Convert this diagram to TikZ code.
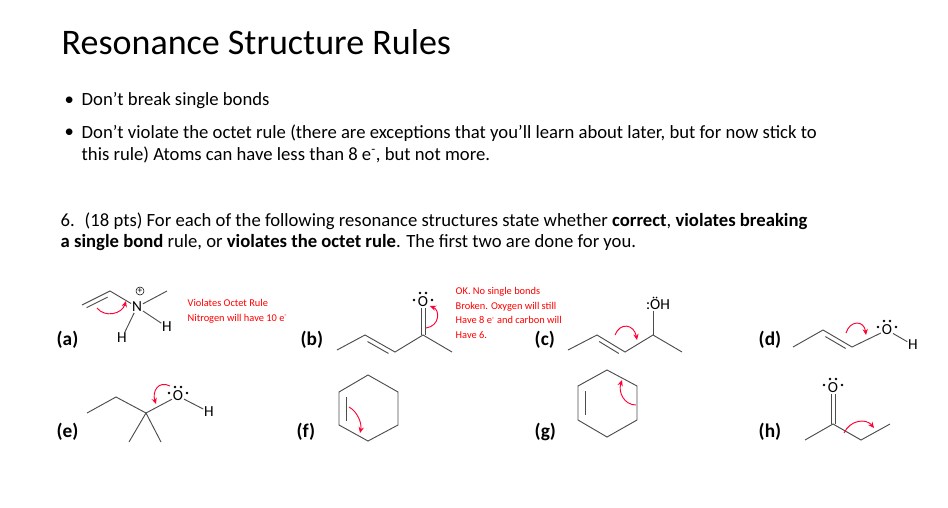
\documentclass[tikz,border=0pt]{standalone}
\usepackage{fontspec}
\setmainfont{Carlito}
\usetikzlibrary{arrows.meta,calc}
\begin{document}
\begin{tikzpicture}[x=0.75pt,y=-0.75pt,
  bond/.style={draw=black!70,line width=0.7pt},
  atom/.style={inner sep=0.5pt,font=\fontsize{11.5}{11.5}\selectfont},
  lbl/.style={font=\fontsize{14.5}{14.5}\selectfont\bfseries,anchor=west},
  txt/.style={anchor=west,font=\fontsize{14}{14}\selectfont},
  note/.style={text=red,font=\fontsize{7.8}{11}\selectfont,anchor=west,align=left},
  earrow/.style={draw=red!80!magenta,line width=0.7pt,-{Stealth[length=4.5pt,width=4pt]}},
  dot/.style={fill=black,circle,inner sep=0pt,minimum size=2pt}]
\useasboundingbox (0,0) rectangle (948,507);
\node[anchor=west,font=\fontsize{27}{27}\selectfont] (title) at (57,42) {Resonance Structure Rules};
\node[txt] (b1d) at (60,101) {•};
\node[txt] (bt1) at (77,101) {Don’t break single bonds};
\node[txt] (b2d) at (60,133) {•};
\node[txt] (bt2) at (77,133) {Don’t violate the octet rule (there are exceptions that you’ll learn about later, but for now stick to};
\node[txt] (bt3) at (77,155) {this rule) Atoms can have less than 8 e\textsuperscript{-}, but not more.};
\node[txt] (q1) at (56,221) {6. \ (18 pts) For each of the following resonance structures state whether \textbf{correct}, \textbf{violates breaking}};
\node[txt] (q2) at (56,243) {\textbf{a single bond} rule, or \textbf{violates the octet rule}. The first two are done for you.};
% (a)
\node[lbl] (la) at (52,340) {(a)};
\coordinate (a1) at (82,305); \coordinate (a2) at (110,291);
\node[atom] (aN) at (137,307) {N};
\coordinate (a3) at (167,291);
\node[atom] (aH1) at (167,327) {H};
\node[atom] (aH2) at (122,338) {H};
\node[draw,circle,inner sep=0.3pt,font=\fontsize{7}{7}\selectfont] (ac) at (140,291) {+};
\draw[bond] (a1)--(a2)--(aN)--(a3); \draw[bond] ($(a1)!0.1!(a2)+(1.8,4)$)--($(a1)!0.85!(a2)+(1.8,4)$);
\draw[bond] (aN)--(aH1); \draw[bond] (aN)--(aH2);
\draw[earrow] (97,308) .. controls (105,318) and (122,314) .. (126,301);
\node[note] (na) at (183,311) {Violates Octet Rule\\Nitrogen will have 10 e\textsuperscript{-}};
% (b)
\node[lbl] (lb) at (296,340) {(b)};
\coordinate (b1) at (337,350); \coordinate (b2) at (365,335); \coordinate (b3) at (395,352); \coordinate (b4) at (423,335); \coordinate (b5) at (452,352);
\node[atom] (bO) at (423,302) {O};
\draw[bond] (b1)--(b2)--(b3)--(b4)--(b5); \draw[bond] ($(b2)!0.15!(b3)+(-2,4)$)--($(b2)!0.85!(b3)+(-2,4)$);
\draw[bond] ($(b4)+(-2,0)$)--($(bO.south)+(-2,0)$); \draw[bond] ($(b4)+(2,0)$)--($(bO.south)+(2,0)$);
\node[dot] at (420,293) {}; \node[dot] at (426,293) {}; \node[dot] at (414,300) {}; \node[dot] at (432,300) {};
\draw[earrow] (426,328) .. controls (440,326) and (440,310) .. (430,306);
\node[note] (nb) at (451,313) {OK. No single bonds\\Broken. Oxygen will still\\Have 8 e\textsuperscript{-} and carbon will\\Have 6.};
% (c)
\node[lbl] (lc) at (530,340) {(c)};
\coordinate (c1) at (568,350); \coordinate (c2) at (597,335); \coordinate (c3) at (625,352); \coordinate (c4) at (653,335); \coordinate (c5) at (682,352);
\node[atom] (cO) at (658,303) {:\"OH};
\draw[bond] (c1)--(c2)--(c3)--(c4)--(c5); \draw[bond] ($(c2)!0.15!(c3)+(-2,4)$)--($(c2)!0.85!(c3)+(-2,4)$);
\draw[bond] (c4)--(653,311);
\draw[earrow] (615,335) .. controls (620,322) and (634,324) .. (637,340);
% (d)
\node[lbl] (ld) at (754,340) {(d)};
\coordinate (d1) at (793,347); \coordinate (d2) at (823,330); \coordinate (d3) at (852,347);
\node[atom] (dO) at (887,330) {O};
\node[atom] (dH) at (913,345) {H};
\draw[bond] (d1)--(d2)--(d3)--(dO)--(dH); \draw[bond] ($(d2)!0.15!(d3)+(-2,4)$)--($(d2)!0.85!(d3)+(-2,4)$);
\node[dot] at (884,321) {}; \node[dot] at (890,321) {}; \node[dot] at (878,327) {}; \node[dot] at (896,327) {};
\draw[earrow] (846,333) .. controls (850,320) and (864,320) .. (866,335);
% (e)
\node[lbl] (le) at (52,432) {(e)};
\coordinate (e1) at (87,413); \coordinate (e2) at (116,397); \coordinate (e3) at (146,413);
\coordinate (e4) at (129,442); \coordinate (e5) at (161,442);
\node[atom] (eO) at (178,396) {O}; \node[atom] (eH) at (209,412) {H};
\draw[bond] (e1)--(e2)--(e3)--(eO)--(eH); \draw[bond] (e4)--(e3)--(e5);
\node[dot] at (175,387) {}; \node[dot] at (181,387) {}; \node[dot] at (169,393) {}; \node[dot] at (187,393) {};
\draw[earrow] (170,386) .. controls (158,380) and (152,392) .. (156,404);
% (f)
\node[lbl] (lf) at (292,432) {(f)};
\coordinate (f1) at (368,375); \coordinate (f2) at (398,392); \coordinate (f3) at (398,425); \coordinate (f4) at (368,441); \coordinate (f5) at (339,425); \coordinate (f6) at (339,392);
\draw[bond] (f1)--(f2)--(f3)--(f4)--(f5)--(f6)--cycle; \draw[bond] (346,397)--(346,421);
\draw[earrow] (349,407) .. controls (358,412) and (362,424) .. (360,433);
% (g)
\node[lbl] (lg) at (530,432) {(g)};
\coordinate (g1) at (607,370); \coordinate (g2) at (637,386); \coordinate (g3) at (637,420); \coordinate (g4) at (607,437); \coordinate (g5) at (578,420); \coordinate (g6) at (578,386);
\draw[bond] (g1)--(g2)--(g3)--(g4)--(g5)--(g6)--cycle; \draw[bond] (585,391)--(585,415);
\draw[earrow] (636,405) .. controls (624,405) and (618,392) .. (622,380);
% (h)
\node[lbl] (lh) at (754,432) {(h)};
\coordinate (h1) at (805,440); \coordinate (h2) at (833,424); \coordinate (h3) at (861,440); \coordinate (h4) at (890,424);
\node[atom] (hO) at (833,388) {O};
\draw[bond] (h1)--(h2)--(h3)--(h4);
\draw[bond] ($(h2)+(-2,0)$)--($(hO.south)+(-2,0)$); \draw[bond] ($(h2)+(2,0)$)--($(hO.south)+(2,0)$);
\node[dot] at (830,379) {}; \node[dot] at (836,379) {}; \node[dot] at (824,385) {}; \node[dot] at (842,385) {};
\draw[earrow] (844,433) .. controls (850,420) and (866,418) .. (874,428);
\end{tikzpicture}
\end{document}
